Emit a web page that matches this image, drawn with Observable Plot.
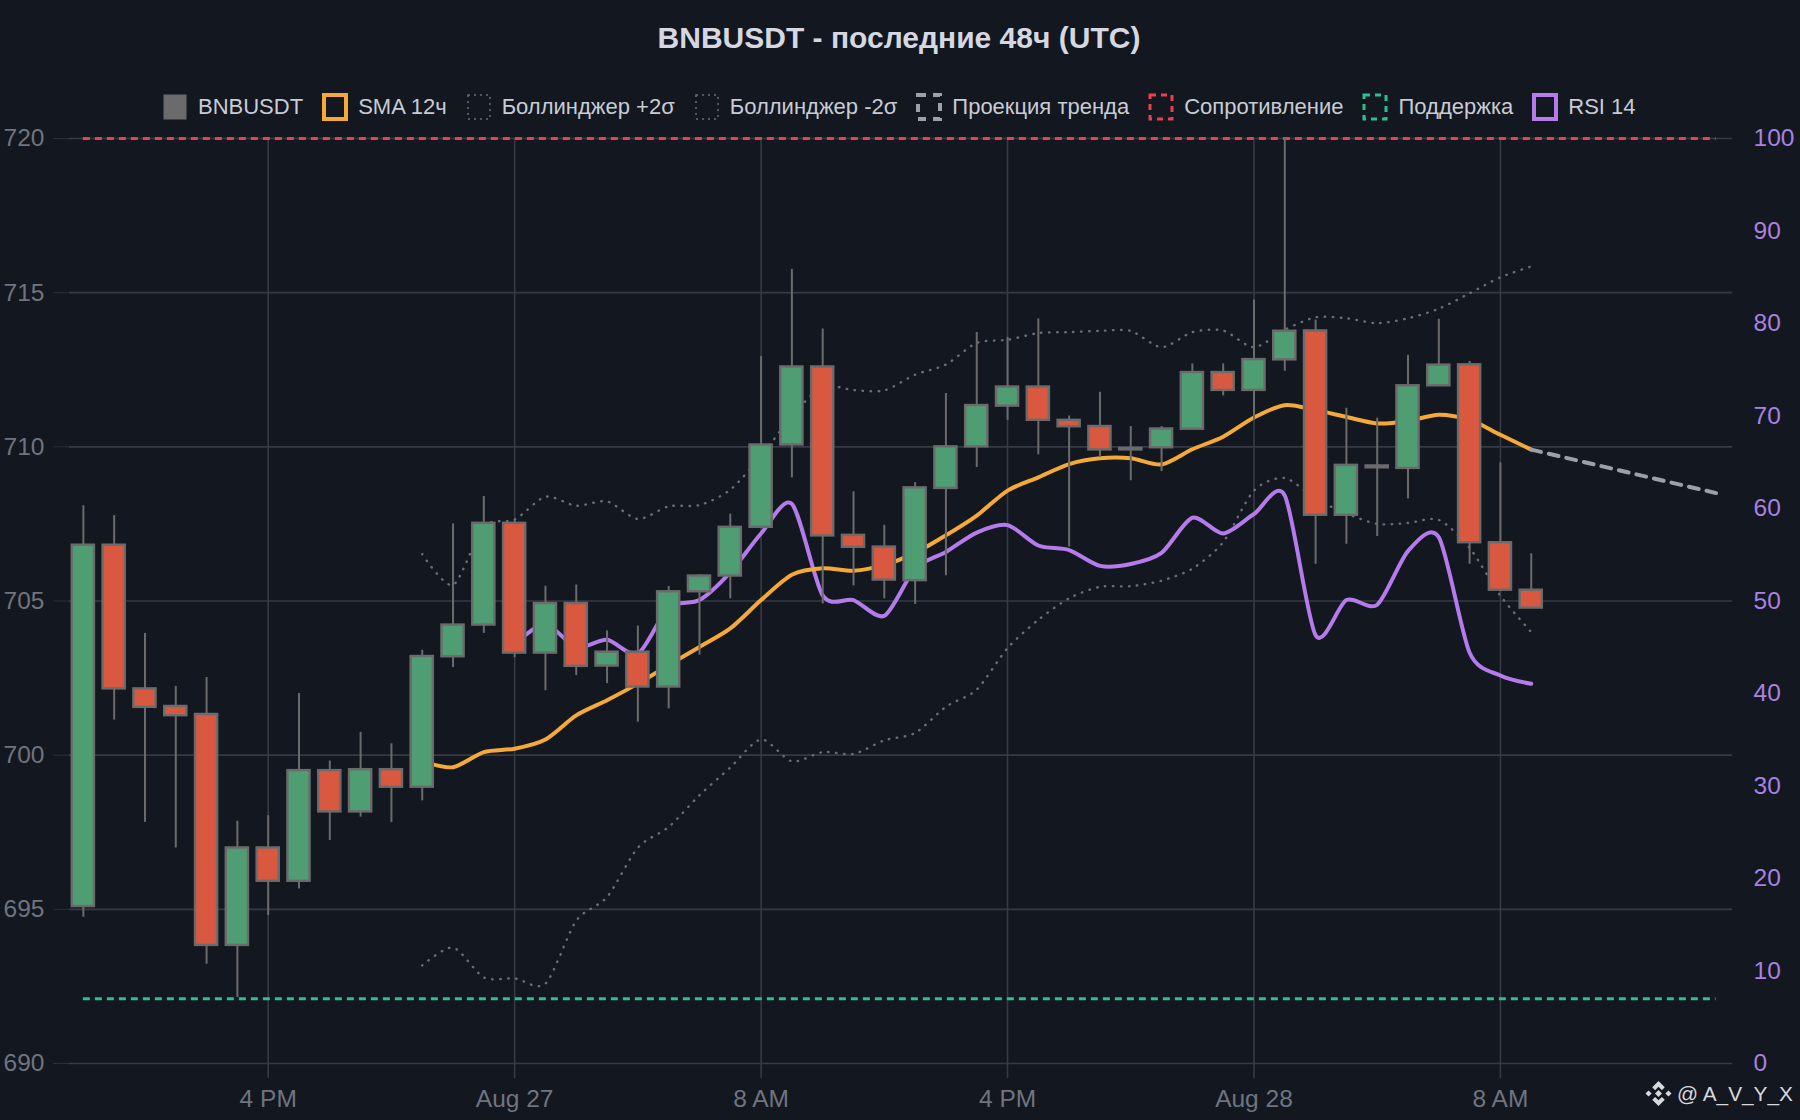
<!DOCTYPE html>
<html lang="ru">
<head>
<meta charset="utf-8">
<script src="https://cdn.jsdelivr.net/npm/d3@7"></script>
<script src="https://cdn.jsdelivr.net/npm/@observablehq/plot@0.6"></script>
<style>
html,body{margin:0;padding:0;background:#121720;width:1800px;height:1120px;overflow:hidden;font-family:"Liberation Sans",Arial,sans-serif}
#title{position:absolute;left:0;top:17px;width:1798px;text-align:center;font-weight:700;font-size:30px;line-height:42px;color:#d5d8e0}
#legend{position:absolute;left:162px;top:93px;display:flex;gap:19px;height:28px;align-items:center;color:#c9ccd4;font-size:22px;white-space:nowrap}
#legend .item{display:flex;align-items:center;gap:10px}
#legend svg{display:block}
#chart{position:absolute;left:0;top:120px}
#mark{position:absolute;left:1645px;top:1080px;display:flex;align-items:center;gap:5px;height:27px;color:#d8d9dc;font-size:20.8px}
</style>
</head>
<body>
<div id="title">BNBUSDT - последние 48ч (UTC)</div>
<div id="legend"></div>
<div id="chart"></div>
<div id="mark"><svg width="27" height="27" viewBox="1 1 28 28"><g fill="#d8d9dc"><path d="M15 2l6.5 6.5-3 3L15 8l-3.5 3.5-3-3z"/><path d="M15 28l6.5-6.5-3-3L15 22l-3.5-3.5-3 3z"/><path d="M1.5 15l3.2-3.2 3.2 3.2-3.2 3.2z"/><path d="M22.1 15l3.2-3.2 3.2 3.2-3.2 3.2z"/><path d="M15 11.4l3.6 3.6-3.6 3.6-3.6-3.6z"/></g></svg><span>@ A_V_Y_X</span></div>
<script>
const opens  = [695.09,706.81,702.15,701.58,701.32,693.83,696.99,695.91,699.5,698.16,699.53,698.96,703.19,704.22,707.52,703.31,704.92,702.89,703.34,702.21,705.3,705.81,707.39,710.06,712.59,707.13,706.75,705.66,708.65,710.0,711.32,711.94,710.86,710.66,709.95,709.97,710.57,712.41,711.83,712.82,713.76,707.78,709.38,709.3,711.98,712.66,706.89,705.35];
const closes = [706.81,702.15,701.55,701.28,693.83,696.99,695.91,699.5,698.16,699.53,698.96,703.2,704.22,707.52,703.31,704.92,702.88,703.34,702.21,705.3,705.81,707.39,710.06,712.59,707.11,706.74,705.68,708.67,710.0,711.34,711.94,710.86,710.65,709.9,709.9,710.58,712.41,711.83,712.83,713.75,707.78,709.4,709.32,711.98,712.65,706.89,705.35,704.77];
const highs  = [708.09,707.77,703.95,702.23,702.52,697.86,698.04,702.0,699.81,700.74,700.37,703.4,707.5,708.39,707.6,705.48,705.52,704.03,704.19,705.47,705.85,707.82,712.93,715.75,713.82,708.54,707.46,708.84,711.73,713.71,713.55,714.15,711.0,711.77,710.66,710.66,712.69,712.69,714.76,720,714.11,711.25,710.93,712.97,714.14,712.77,709.48,706.53];
const lows   = [694.74,701.14,697.82,696.99,693.22,692.14,694.8,695.66,697.23,697.99,697.81,698.52,702.84,703.95,703.16,702.09,702.58,702.32,701.07,701.5,703.24,705.07,707.36,708.99,704.9,705.49,705.07,704.89,705.82,709.33,710.86,709.74,706.75,709.66,708.9,709.2,710.57,711.65,710.85,712.45,706.19,706.84,707.09,708.31,711.98,706.19,705.3,704.77];
const sma = [null,null,null,null,null,null,null,null,null,null,null,699.8,699.61,700.1,700.21,700.51,701.29,701.78,702.32,702.92,703.51,704.11,705.03,705.85,706.06,705.98,706.17,706.56,707.13,707.77,708.58,709.01,709.44,709.63,709.63,709.43,709.92,710.33,710.95,711.35,711.19,710.97,710.76,710.84,711.04,710.88,710.39,709.91];
const bbUpper = [null,null,null,null,null,null,null,null,null,null,null,706.52,705.52,707.42,707.64,708.38,708.09,708.23,707.66,708.07,708.11,708.61,709.7,711.0,711.95,711.84,711.83,712.34,712.67,713.37,713.47,713.69,713.72,713.76,713.76,713.23,713.72,713.77,713.23,713.8,714.2,714.17,714.01,714.17,714.48,714.98,715.5,715.85];
const bbLower = [null,null,null,null,null,null,null,null,null,null,null,693.18,693.76,692.79,692.76,692.59,694.63,695.4,697.0,697.67,698.7,699.6,700.51,699.8,700.1,700.04,700.48,700.72,701.57,702.13,703.47,704.39,705.09,705.46,705.48,705.66,706.05,706.91,708.58,708.99,708.31,707.84,707.5,707.53,707.63,706.72,705.17,703.99];
const rsi = [null,null,null,null,null,null,null,null,null,null,null,null,null,null,45.37,47.5,45.0,45.8,44.3,49.3,50.1,53.1,57.3,60.5,50.6,50.1,48.4,53.5,55.3,57.4,58.2,56.0,55.5,53.8,54.0,55.2,59.0,57.3,59.4,61.4,46.3,50.1,49.6,55.4,56.9,44.4,41.95,41.05];
const trendValues = [709.91,708.5];
const resistance = 720, support = 692.1;
const priceTicks = [690,695,700,705,710,715,720];
const rsiTicks = [0,10,20,30,40,50,60,70,80,90,100];
const timeTicks = ["2025-08-26T16:00Z","2025-08-27T00:00Z","2025-08-27T08:00Z","2025-08-27T16:00Z","2025-08-28T00:00Z","2025-08-28T08:00Z"].map(s=>new Date(s));
const timeLabels = ["4 PM","Aug 27","8 AM","4 PM","Aug 28","8 AM"];
const firstHour = new Date("2025-08-26T10:00Z"), lastHour = new Date("2025-08-28T09:00Z"), trendEnd = new Date("2025-08-28T15:00Z");
const xDomain = [new Date("2025-08-26T09:33Z"), new Date("2025-08-28T15:32Z")];

const C = {grid:"#363a45",tick:"#70747f",rsi:"#a981e0",rsiLine:"#b57bea",sma:"#f5a936",up:"#4f9d72",down:"#d95840",edge:"#6b6b6b",band:"#6a6e78",trend:"#9da0a8",res:"#e9414f",sup:"#2dbf8e"};

const hours = d3.utcHour.range(firstHour, new Date(+lastHour+1));
const rows = hours.map((t,i)=>({t,o:opens[i],c:closes[i],h:highs[i],l:lows[i],sma:sma[i],up:bbUpper[i],lo:bbLower[i],rsi:rsi[i]}));
const hw = 0.36*3600e3;
const rsiToY = v => 690 + v*0.3;

const legendItems = [
 ["BNBUSDT",{fill:C.edge,stroke:C.edge,w:1}],
 ["SMA 12ч",{stroke:C.sma,w:4}],
 ["Боллинджер +2σ",{stroke:C.band,w:1.5,dash:"2 4"}],
 ["Боллинджер -2σ",{stroke:C.band,w:1.5,dash:"2 4"}],
 ["Проекция тренда",{stroke:C.trend,w:4,dash:"8 7"}],
 ["Сопротивление",{stroke:C.res,w:3,dash:"6 5"}],
 ["Поддержка",{stroke:C.sup,w:3,dash:"6 5"}],
 ["RSI 14",{stroke:C.rsiLine,w:4}]
];
const legend = d3.select("#legend");
for (const [name,s] of legendItems){
  const it = legend.append("div").attr("class","item");
  const sv = it.append("svg").attr("width",26).attr("height",28);
  sv.append("rect").attr("x",2).attr("y",2).attr("width",22).attr("height",24)
    .attr("fill",s.fill||"none").attr("stroke",s.stroke).attr("stroke-width",s.w).attr("stroke-dasharray",s.dash||null);
  it.append("span").text(name);
}

const smooth = {curve:"cardinal",tension:0.2};
const plot = Plot.plot({
  width:1800,height:1000,marginTop:18,marginBottom:57,marginLeft:69,marginRight:68,
  style:{background:"transparent",fontFamily:"'Liberation Sans',Arial,sans-serif",overflow:"visible"},
  x:{type:"utc",domain:xDomain,axis:null},
  y:{domain:[690,720],axis:null},
  marks:[
    Plot.ruleY(priceTicks,{stroke:C.grid,strokeWidth:1.6}),
    Plot.ruleX(timeTicks,{stroke:C.grid,strokeWidth:1.6}),
    Plot.axisY(priceTicks,{anchor:"left",tickSize:16,tickPadding:9,stroke:"#2a2f3a",fill:C.tick,fontSize:24.5,label:null,tickFormat:d=>String(d)}),
    Plot.axisY(rsiTicks.map(rsiToY),{anchor:"right",tickSize:0,tickPadding:21,fill:C.rsi,fontSize:24.5,label:null,tickFormat:d=>String(Math.round((d-690)/0.3))}),
    Plot.axisX(timeTicks,{anchor:"bottom",tickSize:15,tickPadding:11,stroke:C.grid,strokeWidth:1.6,fill:C.tick,fontSize:24.5,label:null,tickFormat:d=>timeLabels[timeTicks.findIndex(t=>+t===+d)]}),
    Plot.line(rows,{filter:d=>d.up!=null,x:"t",y:"up",...smooth,stroke:C.band,strokeWidth:2.4,strokeLinecap:"round",strokeDasharray:"0.5 7.5"}),
    Plot.line(rows,{filter:d=>d.lo!=null,x:"t",y:"lo",...smooth,stroke:C.band,strokeWidth:2.4,strokeLinecap:"round",strokeDasharray:"0.5 7.5"}),
    Plot.line(rows,{filter:d=>d.rsi!=null,x:"t",y:d=>rsiToY(d.rsi),...smooth,stroke:C.rsiLine,strokeWidth:4}),
    Plot.line(rows,{filter:d=>d.sma!=null,x:"t",y:"sma",...smooth,stroke:C.sma,strokeWidth:4}),
    Plot.line([lastHour,trendEnd],{x:d=>d,y:(d,i)=>trendValues[i],stroke:C.trend,strokeWidth:4,strokeDasharray:"10 8"}),
    Plot.ruleY([resistance],{x1:firstHour,x2:trendEnd,stroke:C.res,strokeWidth:3,strokeDasharray:"7 5"}),
    Plot.ruleY([support],{x1:firstHour,x2:trendEnd,stroke:C.sup,strokeWidth:3,strokeDasharray:"7 5"}),
    Plot.ruleX(rows,{x:"t",y1:"l",y2:"h",stroke:C.edge,strokeWidth:2}),
    Plot.rect(rows,{x1:d=>new Date(+d.t-hw),x2:d=>new Date(+d.t+hw),y1:"o",y2:"c",fill:d=>d.c>=d.o?C.up:C.down,stroke:C.edge,strokeWidth:2.4})
  ]
});
document.getElementById("chart").appendChild(plot);
</script>
</body>
</html>
